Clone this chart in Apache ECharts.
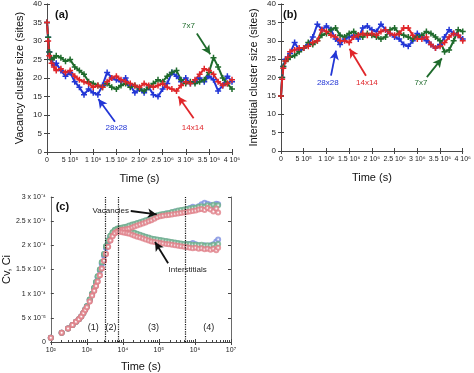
<!DOCTYPE html>
<html><head><meta charset="utf-8">
<script src="https://cdn.jsdelivr.net/npm/echarts@6/dist/echarts.min.js"></script>
<style>html,body{margin:0;padding:0;background:#fff}#c{width:474px;height:373px}</style>
</head><body><div id="c"></div>
<script>
// ---------- data ----------
const timeAB = [0,2.5e4,5e4,1e5,1.5e5,2e5,3e5,4e5,5e5,6e5,7e5,8e5,9e5,1e6,1.1e6,1.2e6,1.3e6,1.4e6,1.5e6,1.6e6,1.7e6,1.8e6,1.9e6,2e6,2.1e6,2.2e6,2.3e6,2.4e6,2.5e6,2.6e6,2.7e6,2.8e6,2.9e6,3e6,3.1e6,3.2e6,3.3e6,3.4e6,3.5e6,3.6e6,3.7e6,3.8e6,3.9e6,4e6];
const vac28 = [35,31,27,25,23.5,24, 22,20.5,21.5,19,17.5,15.5,17,16,15.5,18, 21.5,20,19.5,19,20,18,16,17,16,17.5, 15.5,15,17,18.5,21.5,20.5,19,20,18.5,19, 20,19,20.5,19.5,16.5,18,20.5,19];
const vac14 = [35,30,26,24,23,22, 22.5,21.5,22,20.5,19.5,19,18.5,17.5,18,17.5, 19,20,20.5,19.5,19,18.5,18,17.5,18.5,18, 17.5,18,18.5,17.5,17,16.5,18,19,18.5,19.5, 21,22.5,22,21,19,18,18.5,19.5];
const vac7  = [35,31,27,25,25.5,26, 25.5,24.5,25,23,22,21,19,18.5,18,17.5, 18.5,17.5,17,18,18.5,17.5,18,17,16.5,17.5, 18.5,19.5,19,20.5,21.5,22,19.5,18.5,19,18.5, 19,19.5,21.5,25.5,23,20,18.5,17];
const int28 = [15,20,23,25,25.5,26.5, 29.5,27.5,28,29,31,34.5,33,34,33,30.5, 29,30.5,31,31.5,30.5,33.5,34,33,32.5,34.5, 33,32,31,30.5,29,28.5,30,32,31,30, 29,28,29,31,33,32,31.5,30.5];
const int14 = [15,19.5,22.5,24.5,25.5,27, 27.5,28,28,28.5,29.5,30,33,32.5,31.5,31, 30,30,29.5,31,31.5,32,31.5,32,31.5,32.5, 33,32,31.5,32,33.5,33.5,31.5,30.5,30.5,31, 29,28,28.5,29.5,31,32,31.5,30];
const int7  = [15,20,23,24.5,25,25.5, 26,27,28,29.5,29,30,31.5,32,33,33.5, 31.5,31,32,32.5,31.5,31,32,31.5,31,30.5, 31,33,33.5,32,31.5,31,30.5,31,31.5,32.5, 32,31,30,27,27.5,30,33,32.5];
const xTickLabelsAB = ['0','5 10\u2075','1 10\u2076','1.5 10\u2076','2 10\u2076','2.5 10\u2076','3 10\u2076','3.5 10\u2076','4 10\u2076'];

const timeC = [100,200,300,400,500,600,700,800,900,1000,1200,1400,1600,1800,2000,2300,2600,3000,3400,3900,4500,5200,6000,7000,8000,9500,11000,13000,15000,18000,21000,25000,30000,36000,43000,52000,62000,75000,90000,110000,130000,160000,190000,230000,280000,340000,410000,500000,600000,720000,870000,1050000,1270000,1530000,1850000,2230000,2700000,3250000,3900000,4400000];
// concentrations in units of 1e-4
const cv7  = [0.09,0.19,0.28,0.35,0.42,0.47,0.53,0.60,0.67,0.74, 0.88,1.00,1.12,1.24,1.36,1.50,1.65,1.82,1.98,2.10, 2.20,2.27,2.32,2.35,2.36,2.37,2.38,2.39,2.41,2.43, 2.44,2.46,2.48,2.50,2.52,2.54,2.57,2.60,2.62,2.64, 2.65,2.66,2.67,2.69,2.70,2.72,2.73,2.74,2.75,2.76, 2.77,2.78,2.80,2.81,2.80,2.83,2.81,2.84,2.82,2.83];
const cv28 = [0.09,0.19,0.28,0.35,0.42,0.47,0.53,0.60,0.67,0.74, 0.87,0.99,1.11,1.23,1.34,1.48,1.62,1.79,1.95,2.08, 2.18,2.26,2.31,2.34,2.35,2.36,2.37,2.38,2.40,2.42, 2.43,2.45,2.47,2.49,2.51,2.53,2.56,2.58,2.61,2.63, 2.64,2.66,2.66,2.68,2.70,2.71,2.72,2.73,2.75,2.77, 2.80,2.78,2.81,2.85,2.88,2.86,2.84,2.80,2.86,2.85];
const cv14 = [0.09,0.19,0.28,0.35,0.42,0.47,0.53,0.60,0.66,0.72, 0.84,0.96,1.06,1.16,1.25,1.38,1.52,1.68,1.82,1.97, 2.10,2.20,2.26,2.29,2.31,2.32,2.33,2.34,2.35,2.37, 2.39,2.41,2.43,2.45,2.47,2.50,2.52,2.55,2.58,2.60, 2.61,2.62,2.63,2.64,2.65,2.66,2.67,2.68,2.69,2.70, 2.71,2.72,2.74,2.75,2.73,2.77,2.74,2.70,2.76,2.68];
const ci7  = [0.09,0.19,0.28,0.35,0.42,0.47,0.53,0.60,0.67,0.74, 0.88,1.00,1.12,1.24,1.36,1.50,1.65,1.82,1.98,2.10, 2.20,2.27,2.31,2.33,2.33,2.32,2.31,2.30,2.29,2.27, 2.26,2.24,2.22,2.20,2.18,2.16,2.14,2.13,2.12,2.11, 2.10,2.09,2.08,2.07,2.06,2.05,2.04,2.03,2.03,2.02, 2.01,2.01,2.00,2.01,1.99,2.00,1.99,2.01,1.98,2.03];
const ci28 = [0.09,0.19,0.28,0.35,0.42,0.47,0.53,0.60,0.67,0.74, 0.87,0.99,1.11,1.23,1.34,1.48,1.62,1.79,1.95,2.08, 2.18,2.25,2.30,2.32,2.32,2.31,2.30,2.29,2.28,2.26, 2.25,2.23,2.21,2.19,2.17,2.15,2.13,2.12,2.11,2.10, 2.09,2.08,2.07,2.06,2.05,2.04,2.03,2.02,2.02,2.03, 2.05,2.02,2.00,1.98,2.00,1.97,2.00,2.02,2.08,2.12];
const ci14 = [0.09,0.19,0.28,0.35,0.42,0.47,0.53,0.60,0.66,0.72, 0.84,0.96,1.06,1.16,1.25,1.38,1.52,1.68,1.82,1.97, 2.10,2.19,2.25,2.28,2.28,2.27,2.26,2.25,2.24,2.22, 2.20,2.18,2.16,2.14,2.12,2.10,2.08,2.07,2.06,2.05, 2.04,2.03,2.02,2.01,2.00,1.99,1.98,1.97,1.96,1.95, 1.94,1.95,1.93,1.94,1.92,1.93,1.91,1.93,1.90,1.95];
const xTickLabelsC = ['10\u00b2','10\u00b3','10\u2074','10\u2075','10\u2076','10\u2077'];
const yTickLabelsC = ['0','5 x 10\u207b\u2075','1 x 10\u207b\u2074','1.5 x 10\u207b\u2074','2 x 10\u207b\u2074','2.5 x 10\u207b\u2074','3 x 10\u207b\u2074'];
const regionBounds = [3300, 7500, 540000];

// ---------- styling ----------
const FONT = 'Liberation Sans';
const BLUE = '#2236d6', RED = '#e0262a', GREEN = '#1f6b2c';
const CBLUE = '#7d8fe0', CRED = '#e08088', CGREEN = '#6fb08c';
const CROSS = 'path://M3,0H5V3H8V5H5V8H3V5H0V3H3Z';
const AX = '#444';

const gridA = {left:47, right:242, top:4, height:148};
const gridB = {left:281, right:9, top:3, height:148};
const gridC = {left:47, right:243, top:197, height:148};

function frameX(gi, extra){ return Object.assign({gridIndex:gi, position:'top', axisLine:{lineStyle:{color:AX,width:0.8}}, axisTick:{inside:true,length:3,lineStyle:{color:AX}}, axisLabel:{show:false}, splitLine:{show:false}}, extra); }
function frameY(gi, extra){ return Object.assign({gridIndex:gi, position:'right', axisLine:{show:true,lineStyle:{color:AX,width:0.8}}, axisTick:{show:true,inside:true,length:3,lineStyle:{color:AX}}, axisLabel:{show:false}, splitLine:{show:false}}, extra); }
const lblStyle = {fontFamily:FONT, fontSize:7, color:'#222'};
const nameStyle = {fontFamily:FONT, fontSize:11, color:'#111'};

function lineSeries(xi, yi, ys, color, extra){
  return Object.assign({type:'line', xAxisIndex:xi, yAxisIndex:yi, data: timeAB.map((t,i)=>[t, ys[i]]),
    symbol:CROSS, symbolSize:6, showSymbol:true, itemStyle:{color:color}, lineStyle:{color:color,width:2}, z:3, animation:false}, extra||{});
}
function circSeries(ys, color, extra){
  return Object.assign({type:'scatter', xAxisIndex:4, yAxisIndex:4, data: timeC.map((t,i)=>[t, ys[i]]),
    symbol:'emptyCircle', symbolSize:4, itemStyle:{color:color, borderColor:color, borderWidth:0.8}, animation:false}, extra||{});
}
function arrow(from, to, color){
  return [{coord:from, symbol:'none', lineStyle:{color:color,width:1.8,type:'solid'}, itemStyle:{color:color}},
          {coord:to, symbol:'arrow', symbolSize:[7,9], itemStyle:{color:color}}];
}
function txt(coord, text, color, size, bold){
  return {coord:coord, symbol:'circle', symbolSize:0, label:{show:true, position:'inside', formatter:text, color:color, fontFamily:FONT, fontSize:size||8, fontWeight:bold?'bold':'normal'}};
}
const mlBase = {silent:true, symbol:['none','arrow'], symbolSize:9, label:{show:false}, animation:false, z:5};

const xValA = (gi)=>({gridIndex:gi, type:'value', min:0, max:4e6, interval:5e5, position:'bottom',
  axisLine:{lineStyle:{color:AX,width:0.8}}, axisTick:{inside:true,length:3,lineStyle:{color:AX}},
  axisLabel:Object.assign({formatter:v=>xTickLabelsAB[Math.round(v/5e5)], margin:5, showMaxLabel:true}, lblStyle),
  splitLine:{show:false}, name:'Time (s)', nameLocation:'middle', nameGap:21, nameTextStyle:nameStyle});
const yValA = (gi, name)=>({gridIndex:gi, type:'value', min:0, max:40, interval:5, position:'left',
  axisLine:{show:true,lineStyle:{color:AX,width:0.8}}, axisTick:{show:true,inside:true,length:3,lineStyle:{color:AX}},
  axisLabel:Object.assign({margin:5}, lblStyle, {fontSize:8}), splitLine:{show:false},
  name:name, nameLocation:'middle', nameGap:22, nameTextStyle:nameStyle});

const option = {
  backgroundColor:'#fff',
  grid:[gridA, gridB, gridC],
  xAxis:[
    xValA(0), frameX(0,{type:'value',min:0,max:4e6,interval:5e5}),
    xValA(1), frameX(1,{type:'value',min:0,max:4e6,interval:5e5}),
    {gridIndex:2, type:'log', logBase:10, min:100, max:1e7, position:'bottom',
      axisLine:{lineStyle:{color:AX,width:0.8}}, axisTick:{inside:true,length:3,lineStyle:{color:AX}},
      minorTick:{show:true, splitNumber:9, length:2, lineStyle:{color:AX}},
      axisLabel:Object.assign({formatter:v=>xTickLabelsC[Math.round(Math.log10(v))-2], margin:5}, lblStyle),
      splitLine:{show:false}, name:'Time (s)', nameLocation:'middle', nameGap:19, nameTextStyle:nameStyle},
    frameX(2,{type:'log',logBase:10,min:100,max:1e7})
  ],
  yAxis:[
    yValA(0,'Vacancy cluster size (sites)'), frameY(0,{type:'value',min:0,max:40,interval:5}),
    yValA(1,'Interstitial cluster size (sites)'), frameY(1,{type:'value',min:0,max:40,interval:5}),
    {gridIndex:2, type:'value', min:0, max:3, interval:0.5, position:'left',
      axisLine:{show:true,lineStyle:{color:AX,width:0.8}}, axisTick:{show:true,inside:true,length:3,lineStyle:{color:AX}},
      axisLabel:Object.assign({formatter:v=>yTickLabelsC[Math.round(v/0.5)], margin:5}, lblStyle),
      splitLine:{show:false}, name:'Cv, Ci', nameLocation:'middle', nameGap:30, nameTextStyle:nameStyle},
    frameY(2,{type:'value',min:0,max:3,interval:0.5})
  ],
  series:[
    lineSeries(0,0,vac28,BLUE),
    lineSeries(0,0,vac7,GREEN),
    lineSeries(0,0,vac14,RED,{
      markLine:Object.assign({}, mlBase, {data:[
        arrow([1.47e6,8.2],[1.11e6,14.3],BLUE),
        arrow([3.17e6,9.1],[2.84e6,15],RED),
        arrow([3.24e6,32],[3.53e6,26.4],GREEN)]}),
      markPoint:{silent:true, animation:false, data:[
        txt([1.5e6,6.6],'28x28',BLUE), txt([3.15e6,6.6],'14x14',RED), txt([3.06e6,34.2],'7x7',GREEN),
        txt([0.32e6,37],'(a)','#111',11,true)]}
    }),
    lineSeries(2,2,int28,BLUE),
    lineSeries(2,2,int7,GREEN),
    lineSeries(2,2,int14,RED,{
      markLine:Object.assign({}, mlBase, {data:[
        arrow([1.1e6,20.5],[1.21e6,27.3],BLUE),
        arrow([1.87e6,20.5],[1.51e6,27.8],RED),
        arrow([3.21e6,20.1],[3.54e6,25.2],GREEN)]}),
      markPoint:{silent:true, animation:false, data:[
        txt([1.03e6,18.6],'28x28',BLUE), txt([1.89e6,18.6],'14x14',RED), txt([3.08e6,18.6],'7x7',GREEN),
        txt([0.2e6,37],'(b)','#111',11,true)]}
    }),
    circSeries(cv28,CBLUE), circSeries(ci28,CBLUE),
    circSeries(cv7,CGREEN), circSeries(ci7,CGREEN),
    circSeries(cv14,CRED), circSeries(ci14,CRED,{
      markLine:{silent:true, symbol:'none', label:{show:false}, animation:false,
        lineStyle:{color:'#111',type:'dotted',width:1.2},
        data: regionBounds.map(v=>({xAxis:v}))},
      markPoint:{silent:true, animation:false, data:[
        txt([1500,0.3],'(1)','#222',9), txt([4700,0.3],'(2)','#222',9), txt([71000,0.3],'(3)','#222',9), txt([2.4e6,0.3],'(4)','#222',9),
        txt([4600,2.71],'Vacancies','#222',8), txt([6.3e5,1.49],'Interstitials','#222',8),
        txt([210,2.8],'(c)','#111',11,true)]}
    }),
    {type:'line', xAxisIndex:4, yAxisIndex:4, data:[], silent:true, showSymbol:false,
      markLine:Object.assign({}, mlBase, {data:[
        arrow([1.65e4,2.71],[8.7e4,2.64],'#111'),
        arrow([1.8e5,1.63],[7.8e4,2.07],'#111')]})}
  ]
};
const chart = echarts.init(document.getElementById('c'), null, {renderer:'canvas'});
chart.setOption(option);
</script></body></html>
